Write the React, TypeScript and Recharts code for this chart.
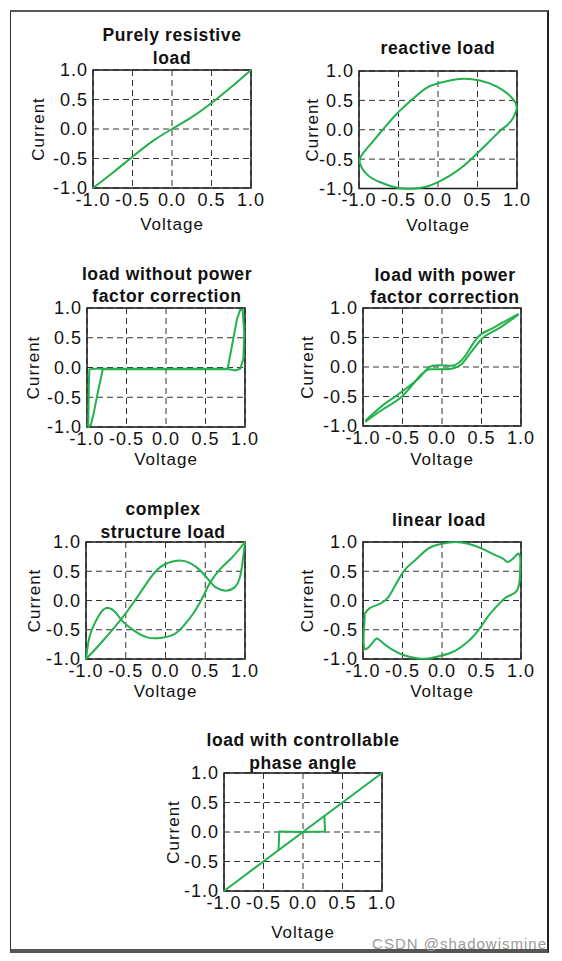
import React from 'react';
import { LineChart, Line, XAxis, YAxis, CartesianGrid, ReferenceArea } from 'recharts';

type Pt = [number, number];

const axisTicks = [-1, -0.5, 0, 0.5, 1];
const green = '#22b14c';

// [voltage, current] pairs
const resistiveLine: Pt[] = [
  [-1, -1], [-0.75, -0.74], [-0.5, -0.47], [-0.25, -0.21], [0, 0],
  [0.25, 0.2], [0.5, 0.44], [0.75, 0.71], [1, 1],
];

const reactiveLoop: Pt[] = [
  [1.0, 0.37], [0.95, 0.2], [0.87, 0.07], [0.8, 0], [0.65, -0.2], [0.49, -0.41],
  [0.32, -0.62], [0.15, -0.78], [0, -0.89], [-0.15, -0.97], [-0.3, -1.0],
  [-0.5, -0.99], [-0.74, -0.89], [-0.9, -0.76], [-0.99, -0.56], [-0.96, -0.42],
  [-0.85, -0.24], [-0.7, 0], [-0.53, 0.26], [-0.34, 0.5], [-0.15, 0.71],
  [0, 0.79], [0.15, 0.84], [0.32, 0.87], [0.53, 0.84], [0.74, 0.74],
  [0.9, 0.59], [0.98, 0.46], [1.0, 0.37],
];

const rectifierLoop: Pt[] = [
  [-0.985, -0.99], [-0.98, -0.6], [-0.975, -0.2], [-0.97, -0.03], [-0.9, -0.02],
  [0.78, -0.02], [0.84, 0.4], [0.9, 0.82], [0.94, 0.97], [0.97, 0.97],
  [0.99, 0.6], [0.98, 0.15], [0.94, -0.02], [0.88, -0.05], [0.8, -0.03],
  [-0.8, -0.03], [-0.86, -0.4], [-0.92, -0.8], [-0.95, -0.96], [-0.975, -1.0],
  [-0.985, -0.99],
];

const pfcUpper: Pt[] = [
  [-0.97, -0.91], [-0.75, -0.65], [-0.59, -0.5], [-0.45, -0.36], [-0.3, -0.2],
  [-0.2, -0.05], [-0.12, 0.02], [0, 0.03], [0.12, 0.02], [0.2, 0.06],
  [0.3, 0.2], [0.45, 0.5], [0.6, 0.63], [0.75, 0.74], [0.97, 0.9],
];
const pfcLower: Pt[] = [
  [0.97, 0.89], [0.75, 0.68], [0.6, 0.57], [0.5, 0.47], [0.35, 0.22],
  [0.25, 0.05], [0.15, -0.02], [0, -0.04], [-0.15, -0.04], [-0.22, -0.08],
  [-0.3, -0.18], [-0.5, -0.49], [-0.75, -0.72], [-0.97, -0.93],
];

const complexRise: Pt[] = [
  [-1, -1], [-0.82, -0.74], [-0.57, -0.34], [-0.4, -0.03], [-0.23, 0.31],
  [-0.065, 0.57], [0.145, 0.68], [0.31, 0.64], [0.44, 0.51], [0.55, 0.34],
  [0.65, 0.21], [0.78, 0.17], [0.88, 0.24], [0.945, 0.45], [0.99, 0.88], [1, 1],
];
const complexFall: Pt[] = [
  [1, 1], [0.84, 0.74], [0.69, 0.54], [0.55, 0.28], [0.48, 0.085], [0.36, -0.2],
  [0.23, -0.43], [0.1, -0.585], [-0.065, -0.64], [-0.23, -0.63], [-0.4, -0.51],
  [-0.55, -0.34], [-0.63, -0.2], [-0.74, -0.13], [-0.84, -0.26], [-0.93, -0.51],
  [-0.97, -0.71], [-1, -1],
];

const linearLoop: Pt[] = [
  [-0.98, -0.23], [-0.915, -0.13], [-0.81, -0.07], [-0.72, 0], [-0.64, 0.14],
  [-0.49, 0.49], [-0.34, 0.69], [-0.17, 0.89], [0, 0.97], [0.165, 1.0],
  [0.33, 0.97], [0.5, 0.89], [0.67, 0.78], [0.78, 0.71], [0.83, 0.66],
  [0.91, 0.73], [0.96, 0.8], [0.99, 0.74], [0.99, 0.54], [0.98, 0.31],
  [0.93, 0.14], [0.82, 0.06], [0.72, -0.06], [0.59, -0.26], [0.46, -0.51],
  [0.33, -0.7], [0.165, -0.86], [0, -0.94], [-0.17, -0.99], [-0.3, -0.99],
  [-0.47, -0.94], [-0.64, -0.83], [-0.77, -0.7], [-0.83, -0.65], [-0.89, -0.74],
  [-0.96, -0.83], [-0.99, -0.77], [-0.99, -0.54], [-0.98, -0.34], [-0.98, -0.23],
];

const phaseDiagonal: Pt[] = [[-1, -1], [1, 1]];
const phaseStep: Pt[] = [
  [0.27, 0.28], [0.28, 0.01], [0, 0], [-0.3, 0.01], [-0.31, -0.31],
];

interface PanelProps {
  title: string[];
  titleX: number;
  titleBaseline: number;
  left: number;
  top: number;
  right: number;
  bottom: number;
  labelGap: number;
  labelDrop: number;
  segments: Pt[][];
  curve: 'natural' | 'linear';
}

const fmt = (v: number) => v.toFixed(1);

function Panel(p: PanelProps) {
  const plotW = p.right - p.left;
  const plotH = p.bottom - p.top;
  const yW = p.labelGap * 2;
  const mTop = 12;
  const mRight = 22;
  const mBottom = 8;
  const series = p.segments.map((seg) => seg.map(([v, i]) => ({ v, i })));

  return (
    <>
      <div
        style={{
          position: 'absolute',
          left: p.titleX - 120,
          width: 240,
          top: p.titleBaseline - 17,
          textAlign: 'center',
          fontWeight: 'bold',
          fontSize: 17.5,
          lineHeight: '22.5px',
          letterSpacing: '0.6px',
          color: '#111',
        }}
      >
        {p.title.map((t) => (
          <div key={t}>{t}</div>
        ))}
      </div>
      <div style={{ position: 'absolute', left: p.left - yW, top: p.top - mTop, letterSpacing: '1px' }}>
        <LineChart
          width={yW + plotW + mRight}
          height={mTop + plotH + p.labelDrop + mBottom}
          margin={{ top: mTop, right: mRight, bottom: mBottom, left: 0 }}
        >
          <CartesianGrid stroke="#333" strokeDasharray="6 4" />
          <XAxis
            dataKey="v"
            type="number"
            domain={[-1, 1]}
            ticks={axisTicks}
            interval={0}
            tickFormatter={fmt}
            axisLine={false}
            tickLine={false}
            tickSize={0}
            tickMargin={5}
            height={p.labelDrop}
            tick={{ fontSize: 18, fill: '#111' }}
            label={{ value: 'Voltage', position: 'insideBottom', offset: 0, fontSize: 17, fill: '#111' }}
          />
          <YAxis
            type="number"
            domain={[-1, 1]}
            ticks={axisTicks}
            interval={0}
            tickFormatter={fmt}
            axisLine={false}
            tickLine={false}
            tickSize={0}
            tickMargin={5}
            width={yW}
            tick={{ fontSize: 18, fill: '#111' }}
            label={{ value: 'Current', position: 'center', angle: -90, fontSize: 17, fill: '#111' }}
          />
          <ReferenceArea x1={-1} x2={1} y1={-1} y2={1} fill="none" fillOpacity={0} stroke="#1a1a1a" strokeWidth={1.5} />
          {series.map((d, k) => (
            <Line
              key={k}
              data={d}
              dataKey="i"
              type={p.curve}
              stroke={green}
              strokeWidth={2}
              dot={false}
              activeDot={false}
              isAnimationActive={false}
            />
          ))}
        </LineChart>
      </div>
    </>
  );
}

export default function App() {
  return (
    <div
      style={{
        position: 'absolute',
        left: 0,
        top: 0,
        width: 562,
        height: 961,
        background: '#fff',
        fontFamily: "'Liberation Sans', Arial, sans-serif",
        color: '#1a1a1a',
      }}
    >
      <div
        style={{
          position: 'absolute',
          left: 10,
          top: 10,
          width: 539,
          height: 943,
          boxSizing: 'border-box',
          borderTop: '2px solid #5a5a5a',
          borderLeft: '1.5px solid #333',
          borderRight: '2px solid #222',
          borderBottom: '4px solid #555',
        }}
      />
      <Panel title={['Purely resistive', 'load']} titleX={172} titleBaseline={41}
        left={93} top={70} right={251} bottom={188} labelGap={55} labelDrop={42}
        segments={[resistiveLine]} curve="natural" />
      <Panel title={['reactive load']} titleX={438} titleBaseline={53.5}
        left={359} top={70.5} right={517} bottom={188} labelGap={47} labelDrop={42}
        segments={[reactiveLoop]} curve="natural" />
      <Panel title={['load without power', 'factor correction']} titleX={167} titleBaseline={279.5}
        left={87} top={308} right={245} bottom={427} labelGap={54} labelDrop={38}
        segments={[rectifierLoop]} curve="linear" />
      <Panel title={['load with power', 'factor correction']} titleX={445} titleBaseline={280.5}
        left={363} top={308} right={521} bottom={426} labelGap={56} labelDrop={39}
        segments={[pfcUpper, pfcLower]} curve="natural" />
      <Panel title={['complex', 'structure load']} titleX={163} titleBaseline={515}
        left={86} top={542} right={245} bottom={659} labelGap={52} labelDrop={38}
        segments={[complexRise, complexFall]} curve="natural" />
      <Panel title={['linear load']} titleX={439} titleBaseline={526}
        left={363} top={542} right={521} bottom={659} labelGap={56} labelDrop={38}
        segments={[linearLoop]} curve="natural" />
      <Panel title={['load with controllable', 'phase angle']} titleX={303} titleBaseline={746}
        left={224} top={773} right={382} bottom={891} labelGap={51} labelDrop={47}
        segments={[phaseDiagonal, phaseStep]} curve="linear" />
      <div
        style={{
          position: 'absolute',
          right: 562 - 547,
          top: 936,
          fontSize: 15,
          lineHeight: '15px',
          letterSpacing: '1px',
          color: '#9a9a9a',
          whiteSpace: 'nowrap',
        }}
      >
        CSDN @shadowismine
      </div>
    </div>
  );
}
